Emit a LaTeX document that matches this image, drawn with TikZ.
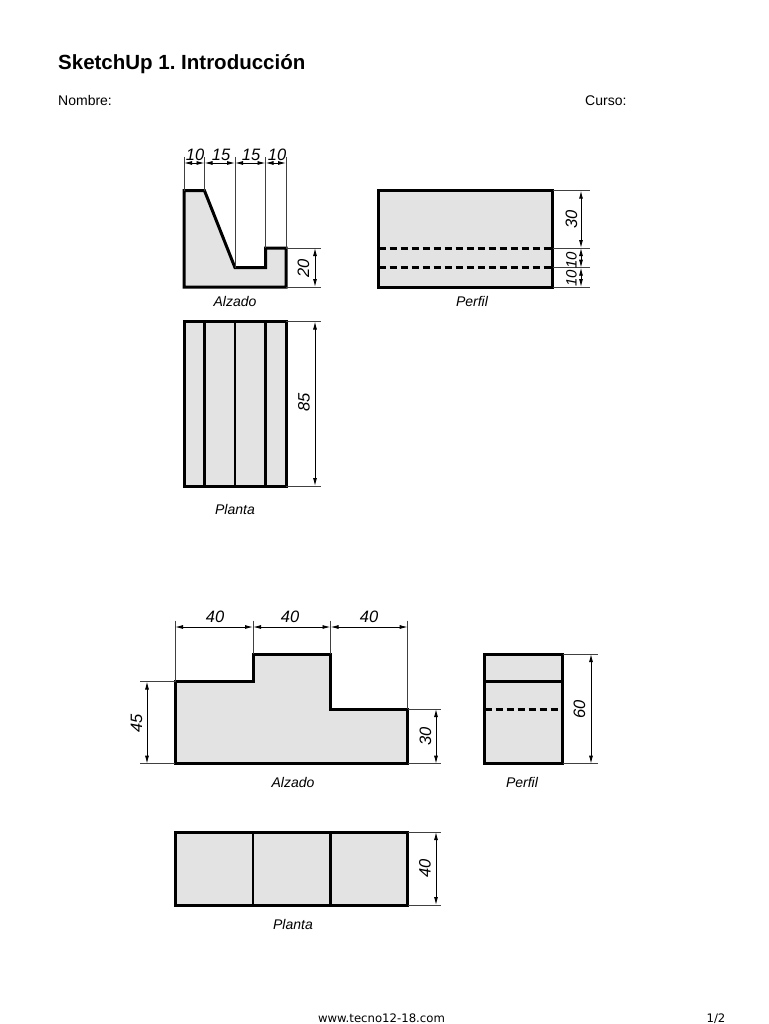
\documentclass[tikz,border=0pt]{standalone}
\usepackage{fontspec}
\setmainfont{Liberation Sans}
\newfontfamily\footfont{DejaVu Sans}
\usetikzlibrary{arrows.meta}

\begin{document}
\begin{tikzpicture}[x=1pt,y=-1pt]
  \tikzstyle{solid face} = [draw=black, fill=black!11, line width=3pt, line join=miter]
  \tikzstyle{edge} = [-, draw=black, line width=2.6pt]
  \tikzstyle{hidden} = [-, draw=black, line width=3pt, dash pattern=on 7pt off 4pt]
  \tikzstyle{extension} = [-, draw=black!75, line width=0.9pt]
  \tikzstyle{measure} = [{Latex[length=8pt,width=4pt]}-{Latex[length=8pt,width=4pt]}, draw=black, line width=0.9pt]
  \tikzstyle{value} = [font=\itshape\fontsize{16.5}{16.5}\selectfont, inner sep=0pt]
  \tikzstyle{sideways} = [value, rotate=90]
  \tikzstyle{narrow} = [sideways, font=\itshape\fontsize{15}{15}\selectfont]
  \tikzstyle{caption} = [font=\itshape\fontsize{14}{14}\selectfont, inner sep=0pt]
  \tikzstyle{plain} = [font=\fontsize{14}{14}\selectfont, inner sep=0pt, anchor=base west]
  \tikzstyle{foot} = [font=\footfont\fontsize{11.7}{11.7}\selectfont, inner sep=0pt, anchor=base]

  \useasboundingbox[fill=white] (0,0) rectangle (768,1024);

  \node[font=\bfseries\fontsize{20.5}{20.5}\selectfont, inner sep=0pt, anchor=base west] (title) at (58,69.5) {SketchUp 1.\ Introducción};
  \node[plain] (nombre) at (58,106) {Nombre:};
  \node[plain] (curso) at (585,106) {Curso:};
  \node[foot] (web) at (381.5,1022) {www.tecno12-18.com};
  \node[foot] (page) at (716,1022) {1/2};

  % first piece
  \draw[solid face] (184,190.7) -- (204.5,190.7) -- (235,267.7) -- (265.5,267.7) -- (265.5,248) -- (286,248) -- (286,287) -- (184,287) -- cycle;
  \draw[solid face] (378.5,190.7) rectangle (552.5,287);
  \draw[hidden] (378.5,248) -- (552.5,248);
  \draw[hidden] (378.5,267.7) -- (552.5,267.7);
  \draw[solid face] (184,321.5) rectangle (286,486);
  \draw[edge] (204.5,321.5) -- (204.5,486);
  \draw[edge] (235,321.5) -- (235,486);
  \draw[edge] (265.5,321.5) -- (265.5,486);

  \foreach \x/\yend in {184/190.7, 204.5/190.7, 235/267.7, 265.5/248, 286/248}
    \draw[extension] (\x,157) -- (\x,\yend);
  \draw[measure] (184,163) -- (204.5,163);
  \draw[measure] (204.5,163) -- (235,163);
  \draw[measure] (235,163) -- (265.5,163);
  \draw[measure] (265.5,163) -- (286,163);
  \node[value] (a1) at (195,155) {10};
  \node[value] (a2) at (221,155) {15};
  \node[value] (a3) at (251,155) {15};
  \node[value] (a4) at (277,155) {10};

  \draw[extension] (286,248) -- (321,248);
  \draw[extension] (286,287) -- (321,287);
  \draw[measure] (315,248) -- (315,287);
  \node[sideways] (a5) at (303.5,268) {20};

  \foreach \y in {190.7, 248, 267.7, 287}
    \draw[extension] (552.5,\y) -- (590,\y);
  \draw[measure] (581,190.7) -- (581,248);
  \draw[measure] (581,248) -- (581,267.7);
  \draw[measure] (581,267.7) -- (581,287);
  \node[sideways] (p1) at (571.5,219) {30};
  \node[narrow] (p2) at (571.5,260) {10};
  \node[narrow] (p3) at (571.5,278.5) {10};

  \draw[extension] (286,321.5) -- (321,321.5);
  \draw[extension] (286,486) -- (321,486);
  \draw[measure] (315,321.5) -- (315,486);
  \node[sideways] (q1) at (304,402) {85};

  \node[caption] (alzado1) at (235,301) {Alzado};
  \node[caption] (perfil1) at (472,301) {Perfil};
  \node[caption] (planta1) at (235,509) {Planta};

  % second piece
  \draw[solid face] (175,681.5) -- (253,681.5) -- (253,654) -- (330.5,654) -- (330.5,709) -- (407.7,709) -- (407.7,763.7) -- (175,763.7) -- cycle;
  \draw[solid face] (484.7,654) rectangle (562.5,763.7);
  \draw[edge] (484.7,681.5) -- (562.5,681.5);
  \draw[hidden] (484.7,709) -- (562.5,709);
  \draw[solid face] (175,832) rectangle (407.7,905);
  \draw[edge] (253,832) -- (253,905);
  \draw[edge] (330.5,832) -- (330.5,905);

  \foreach \x/\yend in {175/681.5, 253/654, 330.5/654, 407.7/709}
    \draw[extension] (\x,620.5) -- (\x,\yend);
  \draw[measure] (175,627) -- (253,627);
  \draw[measure] (253,627) -- (330.5,627);
  \draw[measure] (330.5,627) -- (407.7,627);
  \node[value] (b1) at (215,617) {40};
  \node[value] (b2) at (290,617) {40};
  \node[value] (b3) at (369,617) {40};

  \draw[extension] (140,681.5) -- (175,681.5);
  \draw[extension] (140,763.7) -- (175,763.7);
  \draw[measure] (147,681.5) -- (147,763.7);
  \node[sideways] (b4) at (136.5,723) {45};

  \draw[extension] (407.7,709) -- (441,709);
  \draw[extension] (407.7,763.7) -- (441,763.7);
  \draw[measure] (436,709) -- (436,763.7);
  \node[sideways] (b5) at (425.5,736) {30};

  \draw[extension] (562.5,654) -- (598,654);
  \draw[extension] (562.5,763.7) -- (598,763.7);
  \draw[measure] (591,654) -- (591,763.7);
  \node[sideways] (c1) at (579.5,709) {60};

  \draw[extension] (407.7,832) -- (441,832);
  \draw[extension] (407.7,905) -- (441,905);
  \draw[measure] (436,832) -- (436,905);
  \node[sideways] (d1) at (425,868) {40};

  \node[caption] (alzado2) at (293,782) {Alzado};
  \node[caption] (perfil2) at (522,782) {Perfil};
  \node[caption] (planta2) at (293,924) {Planta};
\end{tikzpicture}
\end{document}
